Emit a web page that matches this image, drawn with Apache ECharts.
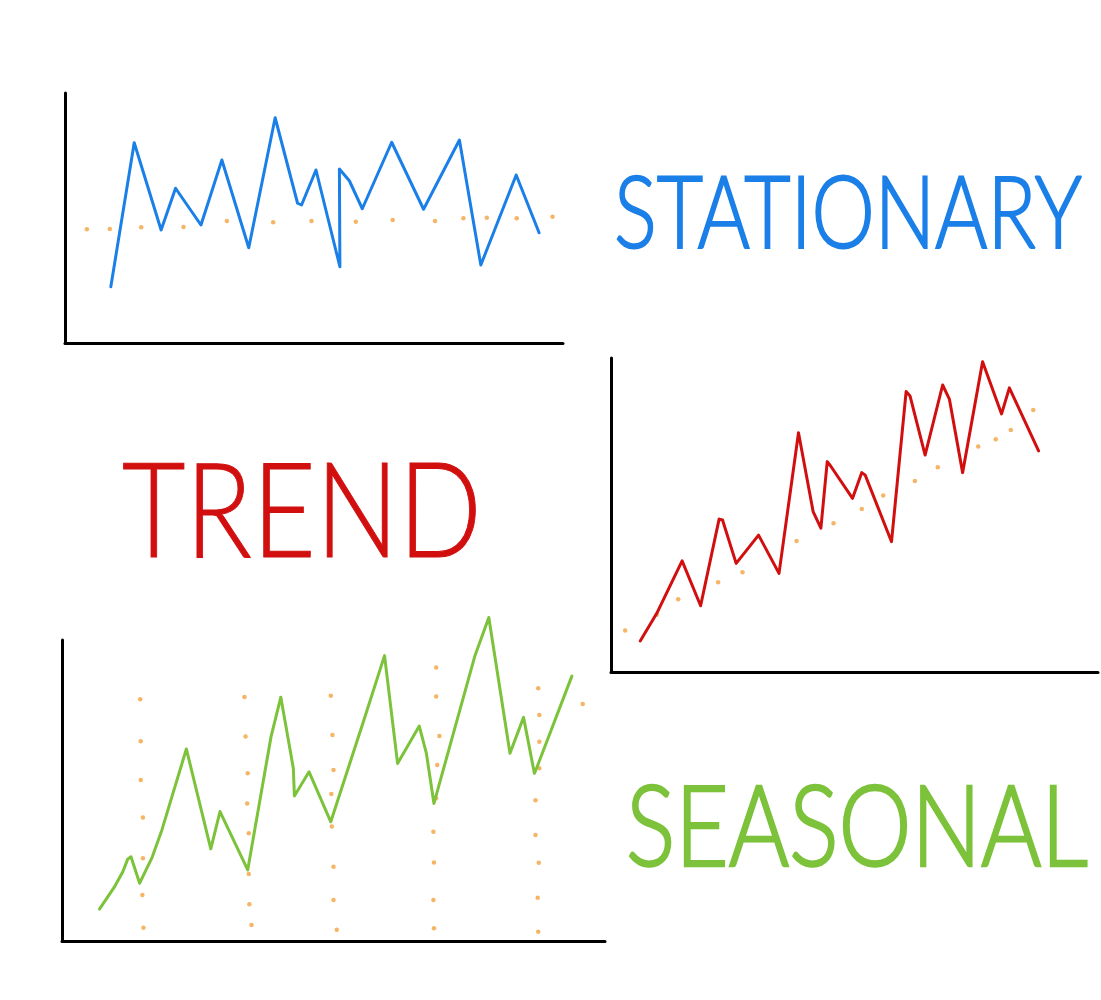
<!DOCTYPE html>
<html>
<head>
<meta charset="utf-8">
<script src="https://cdn.jsdelivr.net/npm/echarts@6/dist/echarts.min.js"></script>
<style>
html,body{margin:0;padding:0;background:#fff;}
#chart{width:1101px;height:1000px;}
</style>
</head>
<body>
<div id="chart"></div>
<script>
// ---- data (x in 0..100 of each panel's time axis, y in 0..100 of its value axis) ----
const stationaryValues = [
  [9.2,22.5],[13.9,80.1],[19.3,45.2],[22.2,61.9],[27.3,47.2],[31.5,73.2],[36.9,38.1],
  [42.2,90.1],[46.7,55.9],[47.5,55.2],[50.4,69.2],[55.2,30.5],[55.1,69.6],[57.1,64.9],
  [59.7,53.7],[65.6,80.3],[72.0,53.5],[79.2,81.2],[83.5,31.2],[90.6,67.2],[95.2,44.1]
];
const stationaryMean = [
  [4.4,45.5],[9.0,45.6],[15.3,46.3],[23.8,46.4],[32.5,48.8],[41.8,48.3],[49.5,48.8],
  [58.4,48.5],[65.8,49.2],[74.3,48.8],[80.0,49.9],[84.7,50.1],[90.7,49.9],[97.9,50.5]
];
const trendValues = [
  [6.0,9.9],[9.4,18.7],[14.6,35.4],[18.4,21.1],[22.2,48.7],[22.9,48.4],[25.7,34.6],
  [30.3,43.6],[34.5,31.4],[38.5,76.2],[41.5,51.1],[43.1,45.8],[44.4,67.0],[45.1,65.6],
  [49.6,55.3],[51.5,63.5],[52.2,62.7],[57.6,41.5],[60.6,89.3],[61.4,87.9],[64.5,69.1],
  [68.1,91.4],[69.5,86.8],[72.2,63.5],[76.3,98.8],[80.2,82.2],[81.8,90.5],[87.8,70.4]
];
const trendLineDots = [
  [2.9,13.2],[9.4,18.2],[13.8,23.2],[22.0,28.6],[27.0,31.8],[38.1,41.7],[45.7,47.4],
  [51.5,51.9],[55.9,56.2],[62.4,60.8],[67.1,65.2],[75.4,71.8],[79.0,74.1],[82.1,77.1],[86.7,83.4]
];
const seasonalValues = [
  [6.9,10.6],[9.6,17.8],[11.2,23.0],[12.1,27.2],[12.7,28.0],[14.3,19.2],[16.6,27.8],
  [18.4,36.9],[22.9,63.8],[27.4,30.6],[29.1,43.0],[34.2,23.6],[38.5,67.9],[40.3,81.0],
  [42.6,57.4],[42.8,48.2],[45.5,56.2],[49.5,39.6],[55.9,75.1],[59.4,94.8],[61.8,59.0],
  [65.8,71.4],[67.1,62.4],[68.5,45.7],[76.0,94.5],[78.6,107.5],[82.5,62.4],[85.0,74.3],
  [87.0,55.7],[87.5,57.9],[93.9,88.0]
];
const seasonDots = [
  [14.4,80.3],[14.5,66.4],[14.5,53.5],[14.9,41.0],[14.9,27.5],[14.8,15.3],[15.0,4.4],
  [33.6,81.1],[33.8,67.9],[34.2,55.7],[34.1,45.7],[34.4,35.8],[34.4,22.3],[34.5,12.2],[34.9,5.3],
  [49.5,81.5],[49.8,68.4],[50.0,56.8],[49.6,48.8],[49.7,38.0],[50.0,24.7],[50.0,13.6],[50.6,3.7],
  [68.9,90.9],[68.9,81.2],[69.5,68.1],[69.1,58.5],[68.9,47.4],[68.4,36.3],[68.5,26.1],[68.4,13.6],[68.5,4.2],
  [87.7,84.0],[87.9,75.1],[87.9,66.2],[87.9,57.4],[87.2,46.8],[87.2,35.2],[87.8,26.0],[87.6,14.4],[87.7,3.1],
  [95.9,78.7]
];
const labels = ['STATIONARY', 'TREND', 'SEASONAL'];

// ---- styles ----
const BLUE = '#1b7fe8', RED = '#d20f0f', GREEN = '#7cc23a', ORANGE = '#f3a33e';
const FONT_FAMILY = 'Lato, "Open Sans", "DejaVu Sans", sans-serif';
const FONT_WEIGHT = 300;

function axis(idx) {
  return {
    type: 'value', gridIndex: idx, min: 0, max: 100,
    axisLine: { show: true, onZero: false, lineStyle: { color: '#000', width: 3 } },
    axisTick: { show: false }, axisLabel: { show: false }, splitLine: { show: false }
  };
}

function fitScale(text, fontSize, targetW) {
  const c = document.createElement('canvas').getContext('2d');
  c.font = FONT_WEIGHT + ' ' + fontSize + 'px ' + FONT_FAMILY;
  return targetW / c.measureText(text).width;
}

function label(text, x, yMid, fontSize, width, color, strokeW) {
  return {
    type: 'text', x: x, y: yMid, scaleX: fitScale(text, fontSize, width), scaleY: 1,
    style: {
      text: text, fill: color, stroke: color, lineWidth: strokeW, lineJoin: 'round',
      fontSize: fontSize, fontFamily: FONT_FAMILY, fontWeight: FONT_WEIGHT,
      textAlign: 'left', textVerticalAlign: 'middle'
    }
  };
}

const chart = echarts.init(document.getElementById('chart'), null, { renderer: 'canvas' });
chart.setOption({
  animation: false,
  backgroundColor: '#ffffff',
  grid: [
    { left: 65, top: 93, width: 498, height: 250 },
    { left: 611, top: 358, width: 487, height: 314 },
    { left: 62, top: 640, width: 543, height: 301 }
  ],
  xAxis: [axis(0), axis(1), axis(2)],
  yAxis: [axis(0), axis(1), axis(2)],
  series: [
    { type: 'scatter', xAxisIndex: 0, yAxisIndex: 0, data: stationaryMean, symbol: 'circle', symbolSize: 4.5,
      itemStyle: { color: ORANGE }, silent: true },
    { type: 'line', xAxisIndex: 0, yAxisIndex: 0, data: stationaryValues, symbol: 'none', clip: false,
      lineStyle: { color: BLUE, width: 3, join: 'round', cap: 'round' } },
    { type: 'scatter', xAxisIndex: 1, yAxisIndex: 1, data: trendLineDots, symbol: 'circle', symbolSize: 4.5,
      itemStyle: { color: ORANGE }, silent: true },
    { type: 'line', xAxisIndex: 1, yAxisIndex: 1, data: trendValues, symbol: 'none', clip: false,
      lineStyle: { color: RED, width: 3, join: 'round', cap: 'round' } },
    { type: 'scatter', xAxisIndex: 2, yAxisIndex: 2, data: seasonDots, symbol: 'circle', symbolSize: 4.5,
      itemStyle: { color: ORANGE }, silent: true },
    { type: 'line', xAxisIndex: 2, yAxisIndex: 2, data: seasonalValues, symbol: 'none', clip: false,
      lineStyle: { color: GREEN, width: 3, join: 'round', cap: 'round' } }
  ],
  graphic: [
    label(labels[0], 614, 216, 100, 468, BLUE, 2),
    label(labels[1], 122, 514, 132, 360, RED, 1),
    label(labels[2], 626, 830, 112, 462, GREEN, 2.5)
  ]
});
</script>
</body>
</html>
